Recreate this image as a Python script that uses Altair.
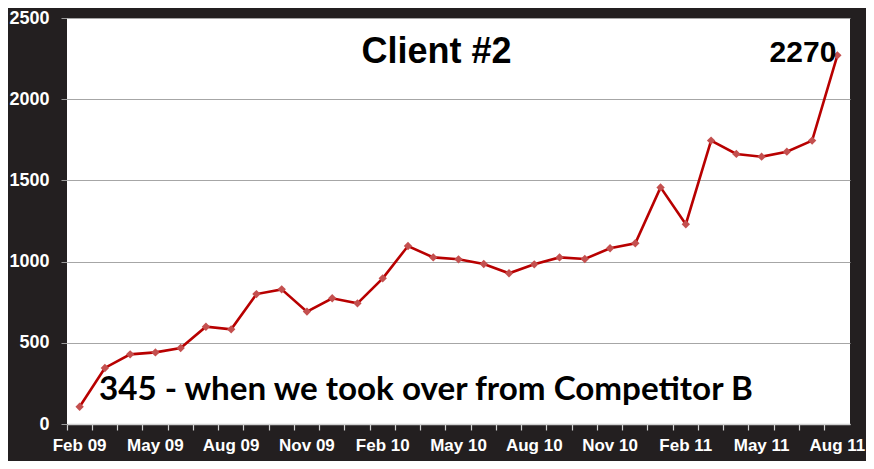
import pandas as pd
import altair as alt

# Monthly totals, Feb 09 .. Aug 11
months = [
    "Feb 09", "Mar 09", "Apr 09", "May 09", "Jun 09", "Jul 09", "Aug 09", "Sep 09",
    "Oct 09", "Nov 09", "Dec 09", "Jan 10", "Feb 10", "Mar 10", "Apr 10", "May 10",
    "Jun 10", "Jul 10", "Aug 10", "Sep 10", "Oct 10", "Nov 10", "Dec 10", "Jan 11",
    "Feb 11", "Mar 11", "Apr 11", "May 11", "Jun 11", "Jul 11", "Aug 11",
]
values = [
    106, 345, 429, 441, 468, 599, 583, 800,
    829, 692, 774, 743, 897, 1096, 1026, 1014,
    985, 928, 983, 1026, 1016, 1082, 1113, 1457,
    1230, 1745, 1663, 1646, 1677, 1745, 2270,
]
shown_labels = ["Feb 09", "May 09", "Aug 09", "Nov 09", "Feb 10", "May 10",
                "Aug 10", "Nov 10", "Feb 11", "May 11", "Aug 11"]
y_ticks = [0, 500, 1000, 1500, 2000, 2500]

df = pd.DataFrame({"month": months, "value": values})

label_list = "[" + ",".join("'%s'" % m for m in shown_labels) + "]"

x = alt.X(
    "month:O", sort=months, title=None,
    scale=alt.Scale(type="band", paddingInner=0, paddingOuter=0),
    axis=alt.Axis(
        bandPosition=0, labelAngle=0, labelOverlap=False, labelBound=False,
        labelExpr="indexof(%s, datum.value) >= 0 ? datum.label : ''" % label_list,
        labelColor="white", labelFont="Liberation Sans", labelFontSize=17,
        labelFontWeight="bold", labelPadding=7,
        domainColor="#d0d0d0", domainWidth=1.5, tickColor="#d0d0d0",
        tickSize=6, tickWidth=1.2, grid=False,
    ),
)
y = alt.Y(
    "value:Q", title=None,
    scale=alt.Scale(domain=[0, 2500], nice=False),
    axis=alt.Axis(
        values=y_ticks, format="d", labelColor="white", labelFont="Liberation Sans",
        labelFontSize=18, labelFontWeight="bold", labelPadding=12,
        tickColor="#9a9a9a", tickSize=6, domain=False,
        grid=True, gridColor="#a6a6a6", gridWidth=1.2,
    ),
)

base = alt.Chart(df).encode(x=x, y=y)

line = base.mark_line(color="#b80000", strokeWidth=2.6)
points = base.mark_point(shape="diamond", filled=True, size=70,
                         color="#c4504f", opacity=1)

last_label = base.mark_text(
    align="right", baseline="alphabetic", dx=-1, dy=7,
    font="Liberation Sans", fontSize=30, fontWeight="bold", color="black",
).encode(text=alt.Text("value:Q", format="d")).transform_filter(
    alt.datum.month == "Aug 11"
)

note = base.mark_text(
    align="left", baseline="alphabetic", dx=-6, dy=32,
    font="Lato", fontSize=33.2, fontWeight="bold", color="black",
).encode(text=alt.value("345 - when we took over from Competitor B")).transform_filter(
    alt.datum.month == "Mar 09"
)

chart = alt.layer(line, points, last_label, note).properties(
    width=783,
    height=406,
    autosize=alt.AutoSizeParams(type="none"),
    padding={"left": 59, "top": 10, "right": 16, "bottom": 37},
    background="#231f20",
    title=alt.TitleParams(
        "Client #2", font="Liberation Sans", fontSize=36, fontWeight="bold",
        color="black", anchor="middle", offset=-62, dx=-22,
    ),
).configure_view(fill="white", stroke=None)

chart.save("out.html", embed_options={"renderer": "svg", "actions": False})
